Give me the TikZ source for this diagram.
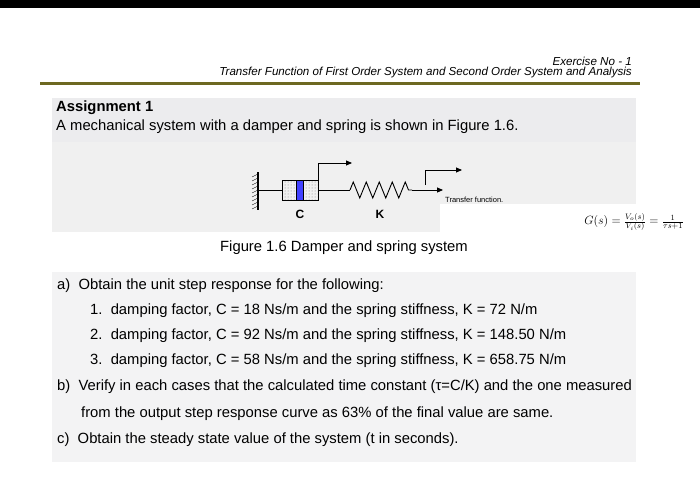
\documentclass[tikz,border=0pt]{standalone}
\usepackage{fontspec}
\setmainfont{Liberation Sans}
\usetikzlibrary{decorations.pathmorphing,patterns,arrows.meta}
\begin{document}
\begin{tikzpicture}[x=1pt,y=-1pt,
  txt/.style={anchor=west,inner sep=0,font=\fontsize{14.8}{17}\selectfont},
  hdr/.style={anchor=east,inner sep=0,font=\fontsize{11.6}{13}\selectfont\itshape},
  conn/.style={line width=0.9pt},
  arr/.style={line width=0.9pt,-{Triangle[length=6pt,width=5pt]}}]
\useasboundingbox (0,0) rectangle (700,476);
\fill[white] (0,0) rectangle (700,476);
\fill[black] (0,0) rectangle (700,8);
\node[hdr] (h1) at (632,61) {Exercise No - 1};
\node[hdr] (h2) at (632,73) {Transfer Function of First Order System and Second Order System and Analysis};
\fill[olive!70!black] (40,82) rectangle (640,85);
\fill[blue!4!gray!14] (52,98) rectangle (636,142);
\fill[gray!12] (52,142) rectangle (636,232);
\fill[white] (440,204) rectangle (636,262);
\node[txt,font=\fontsize{14.8}{17}\selectfont\bfseries] (as) at (56,108) {Assignment 1};
\node[txt] (l2) at (56,127) {A mechanical system with a damper and spring is shown in Figure 1.6.};
% wall
\draw[line width=1.2pt] (258,172) -- (258,210);
\foreach \y in {174,178,...,208} \draw (252,\y+3) -- (258,\y);
\coordinate (w) at (258,190);
\node[draw,line width=0.9pt,minimum width=36pt,minimum height=20pt,inner sep=0,pattern=dots,pattern color=gray] (d) at (300,190) {};
\fill[blue!75] (296,180.5) rectangle (303,199.5);
\draw[line width=0.8pt] (296,180.5) -- (296,199.5) (303,180.5) -- (303,199.5);
\coordinate (s1) at (350,190);
\coordinate (s2) at (412,190);
\coordinate (e) at (443,190);
\draw[conn] (w) -- (d.west);
\draw[conn] (d.east) -- (s1);
\draw[conn,decoration={zigzag,segment length=13pt,amplitude=8pt},decorate] (s1) -- (s2);
\draw[arr] (s2) -- (e);
\coordinate (a1t) at (352,163);
\draw[arr] (318,190) |- (a1t);
\coordinate (a2t) at (462,170);
\draw[arr] (425,185) |- (a2t);
\node[inner sep=0,font=\fontsize{12}{13}\selectfont\bfseries] (C) at (300,214) {C};
\node[inner sep=0,font=\fontsize{12}{13}\selectfont\bfseries] (K) at (380,214) {K};
\node[txt,font=\fontsize{7.5}{8}\selectfont] (tf) at (445,200) {Transfer function.};
\node[inner sep=0,font=\fontsize{12}{13}\selectfont\bfseries] (G) at (634,222) {$G(s)=\frac{V_o(s)}{V_i(s)}=\frac{1}{\tau s+1}$};
\node[inner sep=0,font=\fontsize{14.8}{17}\selectfont] (cap) at (344,248) {Figure 1.6 Damper and spring system};
\fill[blue!6!gray!9] (52,272) rectangle (636,462);
\node[txt] (a) at (57,286) {a)\ \ Obtain the unit step response for the following:};
\node[txt] (a1x) at (90,311) {1.\ \ damping factor, C = 18 Ns/m and the spring stiffness, K = 72 N/m};
\node[txt] (a2x) at (90,336) {2.\ \ damping factor, C = 92 Ns/m and the spring stiffness, K = 148.50 N/m};
\node[txt] (a3x) at (90,361) {3.\ \ damping factor, C = 58 Ns/m and the spring stiffness, K = 658.75 N/m};
\node[txt] (b) at (57,387) {b)\ \ Verify in each cases that the calculated time constant (τ=C/K) and the one measured};
\node[txt] (b2) at (81,414) {from the output step response curve as 63\% of the final value are same.};
\node[txt] (c) at (57,440) {c)\ \ Obtain the steady state value of the system (t in seconds).};
\end{tikzpicture}
\end{document}
